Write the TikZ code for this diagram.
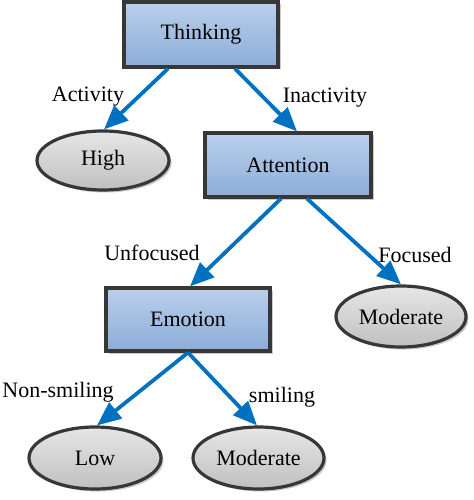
\documentclass[tikz,border=0pt]{standalone}
\usepackage{fontspec}
\setmainfont{Liberation Serif}
\usetikzlibrary{arrows.meta,shadows,shapes.geometric}
\definecolor{boxtop}{RGB}{186,207,235}
\definecolor{boxbot}{RGB}{140,173,216}
\definecolor{elltop}{RGB}{230,230,230}
\definecolor{ellbot}{RGB}{192,192,192}
\definecolor{edgeblue}{RGB}{0,112,192}
\definecolor{border}{RGB}{55,55,55}
\tikzset{
  attrbox/.style={rectangle, draw=border, line width=3.2bp, top color=boxtop, bottom color=boxbot,
    drop shadow={shadow xshift=2.5bp, shadow yshift=-2.5bp, opacity=0.35, fill=black!60},
    inner sep=0pt, font=\fontsize{22bp}{26bp}\selectfont},
  leafell/.style={ellipse, draw=border, line width=3.2bp, top color=elltop, bottom color=ellbot,
    drop shadow={shadow xshift=2.5bp, shadow yshift=-2.5bp, opacity=0.35, fill=black!60},
    inner sep=0pt, font=\fontsize{22bp}{26bp}\selectfont},
  edgearrow/.style={draw=edgeblue, line width=3.8bp, -{Triangle[length=24bp,width=20bp]}},
  edgelabel/.style={anchor=base, inner sep=0pt, font=\fontsize{22bp}{26bp}\selectfont}
}
\begin{document}
\begin{tikzpicture}[x=1bp,y=-1bp]
\useasboundingbox (0,0) rectangle (474,500);
% nodes
\node[attrbox, minimum width=154bp, minimum height=65bp] (thinking) at (201,34.5) {Thinking};
\node[leafell, minimum width=132bp, minimum height=59bp] (high) at (103,160.5) {High};
\node[attrbox, minimum width=166bp, minimum height=64bp] (attention) at (288,165) {Attention};
\node[attrbox, minimum width=164bp, minimum height=63bp] (emotion) at (188,319.5) {Emotion};
\node[leafell, minimum width=130bp, minimum height=61bp] (modr) at (401,316.5) {Moderate};
\node[leafell, minimum width=132bp, minimum height=62bp] (low) at (95,458) {Low};
\node[leafell, minimum width=131bp, minimum height=62bp] (modb) at (258.5,458) {Moderate};
% connectors
\draw[edgearrow] ([xshift=-33bp]thinking.south) -- ([xshift=1bp]high.north);
\draw[edgearrow] ([xshift=34bp]thinking.south) -- ([xshift=9bp]attention.north);
\draw[edgearrow] ([xshift=-7bp]attention.south) -- ([xshift=2bp]emotion.north);
\draw[edgearrow] ([xshift=19bp]attention.south) -- (modr.north);
\draw[edgearrow] (emotion.south) -- ([xshift=2bp]low.north);
\draw[edgearrow] (emotion.south) -- ([xshift=-1.5bp]modb.north);
% labels
\node[edgelabel] (lact) at (88,102) {Activity};
\node[edgelabel] (linact) at (325,103) {Inactivity};
\node[edgelabel] (lunf) at (152,260) {Unfocused};
\node[edgelabel] (lfoc) at (415,262) {Focused};
\node[edgelabel] (lnon) at (58,397) {Non-smiling};
\node[edgelabel] (lsmi) at (282,402) {smiling};
\end{tikzpicture}
\end{document}
